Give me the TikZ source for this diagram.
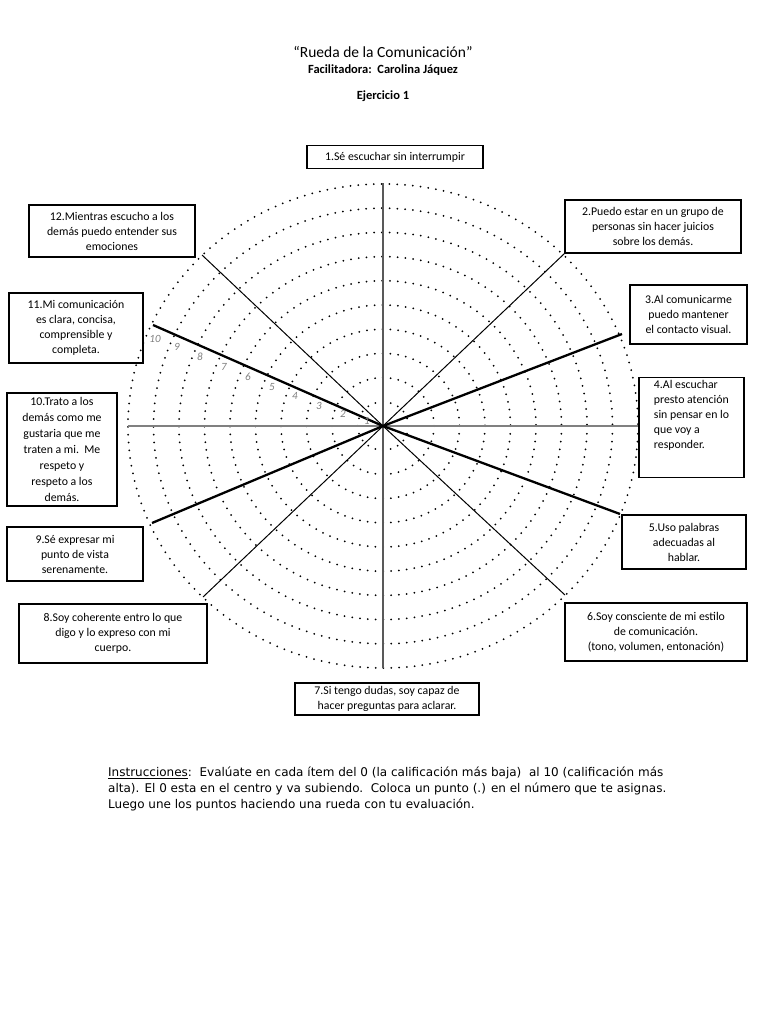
\documentclass[tikz,border=0pt]{standalone}
\usepackage{fontspec}
\setmainfont{Carlito}
\newfontfamily\instrfont{DejaVu Sans}
\begin{document}
\begin{tikzpicture}[x=1pt,y=-1pt,
  box/.style={draw=black,line width=1.1pt,align=center,inner sep=2pt,font=\fontsize{11.8}{15}\selectfont},
  ring/.style={line width=2pt,line cap=round,dash pattern=on 0pt off 7.8pt,black},
  spokethin/.style={line width=1pt,black},
  spokethick/.style={line width=2.3pt,black},
  spokegrayv/.style={line width=1.6pt,black!65},
  spokegrayh/.style={line width=2.6pt,black!50},
  numlbl/.style={text=black!50,font=\fontsize{11}{12}\selectfont\itshape,inner sep=0pt}]
\useasboundingbox (0,0) rectangle (768,1024);
\fill[white] (0,0) rectangle (768,1024);

% titles
\node[font=\fontsize{15.5}{18}\selectfont] (t1) at (383,52) {“Rueda de la Comunicación”};
\node[font=\fontsize{12.5}{15}\selectfont\bfseries] (t2) at (383,70) {Facilitadora:\ \ Carolina Jáquez};
\node[font=\fontsize{12.5}{15}\selectfont\bfseries] (t3) at (383,96) {Ejercicio 1};

% rings
\coordinate (c) at (383,426);
\foreach \k in {1,...,10}{
  \draw[ring] (c) ellipse [x radius={25.5*\k}, y radius={24.2*\k}];
}

% spokes
\coordinate (e1) at (383,183);
\coordinate (e2) at (565,253);
\coordinate (e3) at (622,334);
\coordinate (e4) at (638,426);
\coordinate (e5) at (620,514);
\coordinate (e6) at (565,595);
\coordinate (e7) at (383,668);
\coordinate (e8) at (203,597);
\coordinate (e9) at (152,523);
\coordinate (e10) at (128,426);
\coordinate (e11) at (153,325);
\coordinate (e12) at (202,255);
\draw[spokegrayv] (c) -- (e1);
\draw[spokegrayv] (c) -- (e7);
\draw[spokegrayh] (c) -- (e4);
\draw[spokegrayh] (c) -- (e10);
\draw[spokethin] (c) -- (e2);
\draw[spokethin] (c) -- (e6);
\draw[spokethin] (c) -- (e8);
\draw[spokethin] (c) -- (e12);
\draw[spokethick] (c) -- (e3);
\draw[spokethick] (c) -- (e5);
\draw[spokethick] (c) -- (e9);
\draw[spokethick] (c) -- (e11);

% scale numbers
\node[numlbl] (n10) at (155,339) {10};
\node[numlbl] (n9) at (177,347) {9};
\node[numlbl] (n8) at (200,357) {8};
\node[numlbl] (n7) at (224,367) {7};
\node[numlbl] (n6) at (248,377) {6};
\node[numlbl] (n5) at (272,387) {5};
\node[numlbl] (n4) at (295,396) {4};
\node[numlbl] (n3) at (319,406) {3};
\node[numlbl] (n2) at (343,414) {2};
\node[numlbl] (n1) at (367,421) {1};

% boxes
\node[box,minimum width=176,minimum height=23] (b1) at (395,157) {1.Sé escuchar sin interrumpir};
\node[box,minimum width=176,minimum height=53] (b2) at (653,226.5) {2.Puedo estar en un grupo de\\personas sin hacer juicios\\sobre los demás.};
\node[box,minimum width=117,minimum height=59] (b3) at (688.5,314.5) {3.Al comunicarme\\puedo mantener\\el contacto visual.};
\node[box,minimum width=105,minimum height=99,align=left] (b4) at (691.5,427.5) {4.Al escuchar\\presto atención\\sin pensar en lo\\que voy a\\responder.\\[12pt]};
\node[box,minimum width=124,minimum height=54] (b5) at (684,542) {5.Uso palabras\\adecuadas al\\hablar.};
\node[box,minimum width=182,minimum height=58] (b6) at (656,632) {6.Soy consciente de mi estilo\\de comunicación.\\(tono, volumen, entonación)};
\node[box,minimum width=184,minimum height=32] (b7) at (387,699) {7.Si tengo dudas, soy capaz de\\hacer preguntas para aclarar.};
\node[box,minimum width=188,minimum height=59] (b8) at (113,633.5) {8.Soy coherente entro lo que\\digo y lo expreso con mi\\cuerpo.};
\node[box,minimum width=136,minimum height=54] (b9) at (75,554) {9.Sé expresar mi\\punto de vista\\serenamente.};
\node[box,minimum width=110,minimum height=113,font=\fontsize{11.8}{16}\selectfont] (b10) at (62,449.5) {10.Trato a los\\demás como me\\gustaria que me\\traten a mi.\ \ Me\\respeto y\\respeto a los\\demás.};
\node[box,minimum width=134,minimum height=70] (b11) at (76,328) {11.Mi comunicación\\es clara, concisa,\\comprensible y\\completa.};
\node[box,minimum width=166,minimum height=52] (b12) at (112,231) {12.Mientras escucho a los\\demás puedo entender sus\\emociones};

% instructions
\node[anchor=north west,align=left,inner sep=0pt,font=\instrfont\fontsize{12}{15.6}\selectfont] (ins) at (108,767)
{\underline{Instrucciones}:\ \ Evalúate en cada ítem del 0 (la calificación más baja)\ \ al 10 (calificación más\\
alta). El 0 esta en el centro y va subiendo.\ \ Coloca un punto (.) en el número que te asignas.\\
Luego une los puntos haciendo una rueda con tu evaluación.};
\end{tikzpicture}
\end{document}
